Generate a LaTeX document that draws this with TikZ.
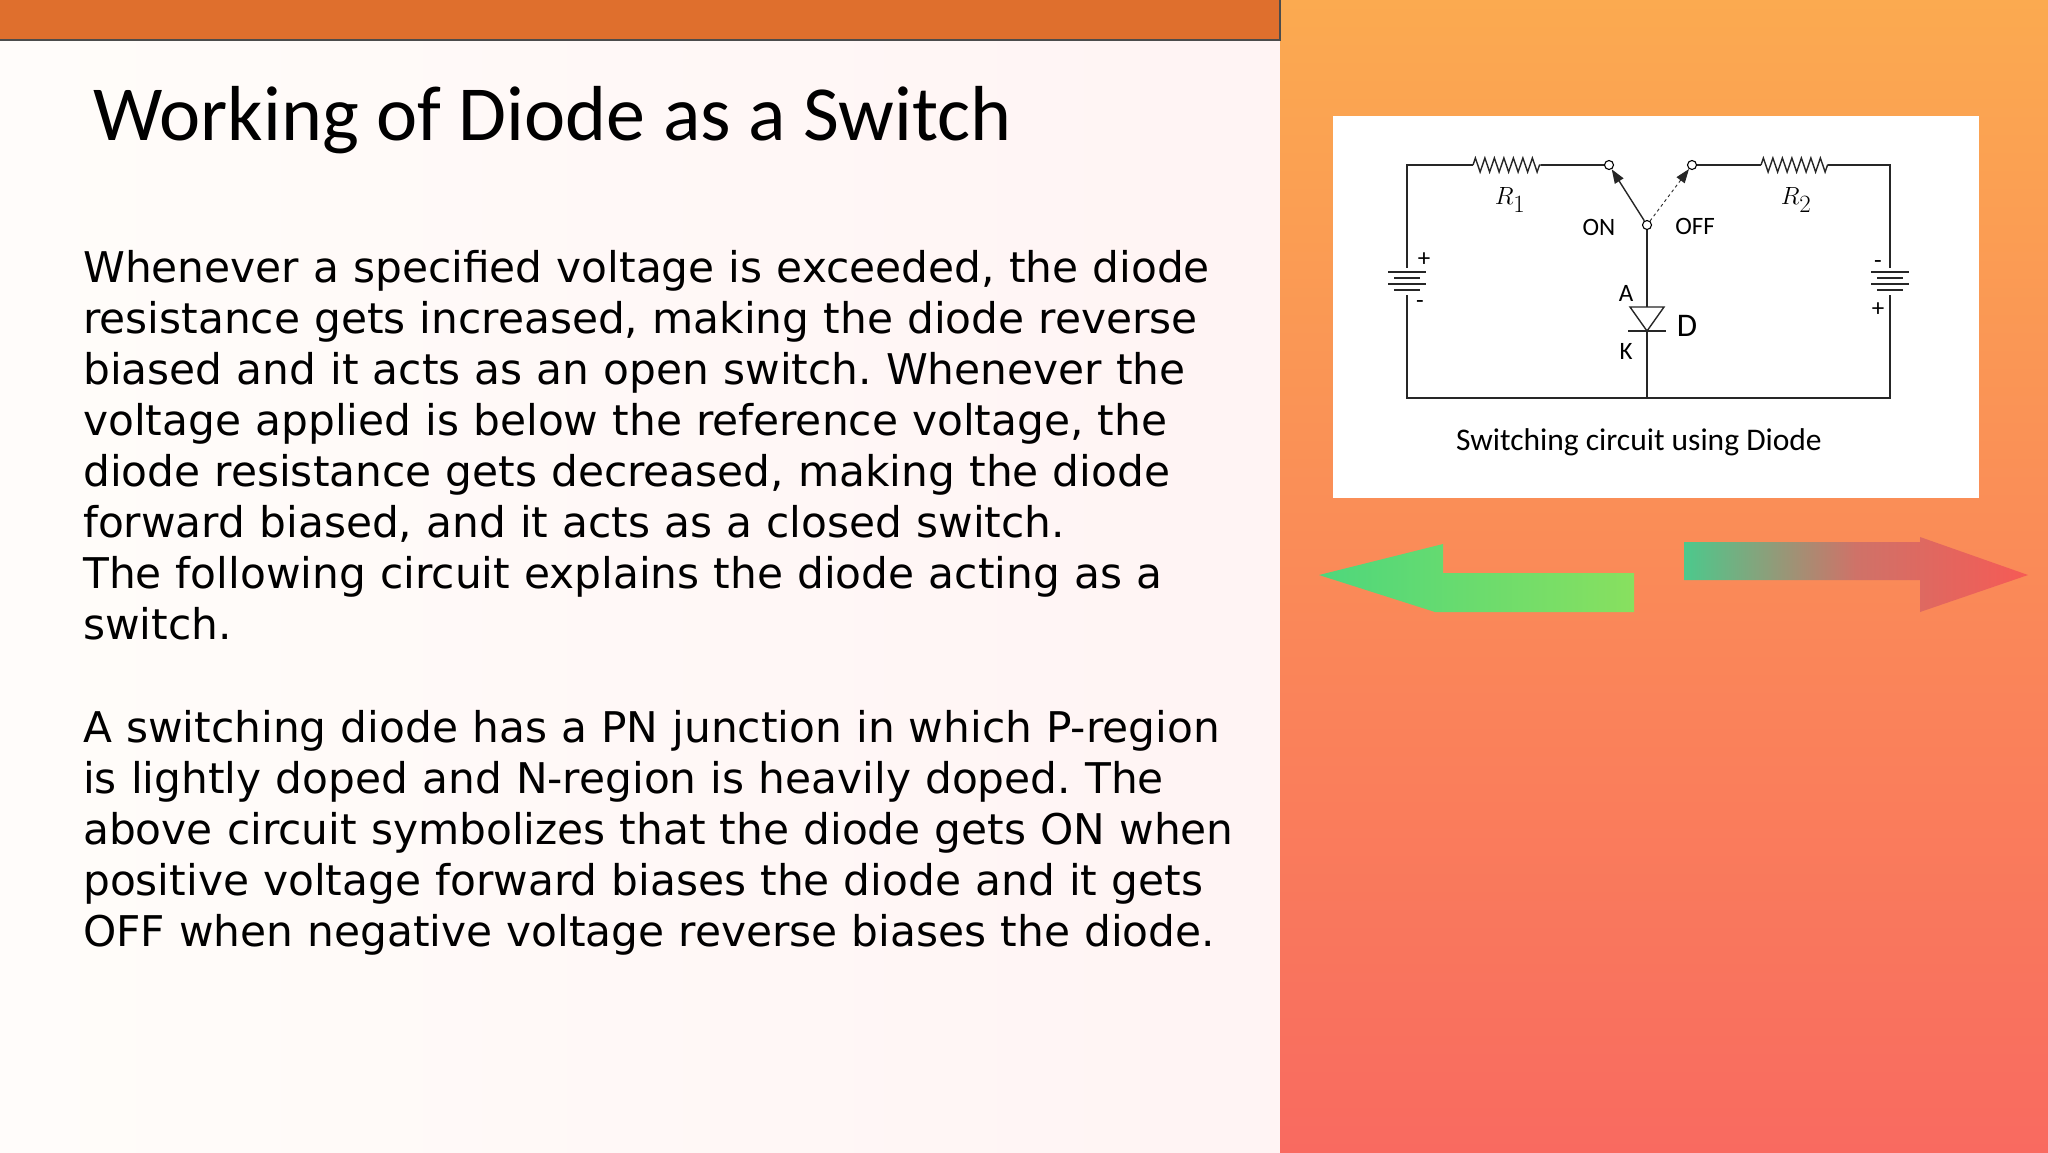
\documentclass[tikz,border=0pt]{standalone}
\usepackage{fontspec}
\setmainfont{DejaVu Sans}
\newfontfamily\carl{Carlito}
\usetikzlibrary{arrows.meta,decorations.pathmorphing}
\frenchspacing
\definecolor{otop}{HTML}{FBAA50}
\definecolor{obot}{HTML}{F96A60}
\definecolor{barc}{HTML}{DF6F2D}
\definecolor{gA}{HTML}{4ED77C}
\definecolor{gB}{HTML}{88E05F}
\definecolor{rA}{HTML}{4CC98C}
\definecolor{rM}{HTML}{CF7268}
\definecolor{rB}{HTML}{F65A55}
\tikzset{
 wire/.style={line width=1.4pt,black!85},
 res/.style={wire,decorate,decoration={zigzag,segment length=9.5pt,amplitude=7pt}},
 term/.style={circle,draw,line width=1.1pt,minimum size=9pt,inner sep=0pt,fill=white},
 lab/.style={font=\carl\fontsize{25}{27}\selectfont,inner sep=0pt},
 body/.style={anchor=north west,align=left,inner sep=0pt,font=\fontsize{42.3}{51}\selectfont,text width=1230pt}
}
\begin{document}
\begin{tikzpicture}[x=1pt,y=-1pt]
\useasboundingbox (0,0) rectangle (2048,1152);
\shade[left color=white!98!orange, right color=pink!18!white] (0,0) rectangle (1280,1152);
\shade[top color=otop,bottom color=obot] (1280,0) rectangle (2048,1152);
\fill[barc] (0,0) rectangle (1280,40);
\draw[black!70,line width=1.2pt] (0,40) -- (1280,40) -- (1280,0);
\node[anchor=west,inner sep=0pt,font=\carl\fontsize{78}{84}\selectfont] (title) at (93,120) {Working of Diode as a Switch};
\node[body] (p1) at (83,250) {Whenever a specified voltage is exceeded, the diode\\resistance gets increased, making the diode reverse\\biased and it acts as an open switch. Whenever the\\voltage applied is below the reference voltage, the\\diode resistance gets decreased, making the diode\\forward biased, and it acts as a closed switch.\\The following circuit explains the diode acting as a\\switch.};
\node[body] (p2) at (83,710) {A switching diode has a PN junction in which P-region\\is lightly doped and N-region is heavily doped. The\\above circuit symbolizes that the diode gets ON when\\positive voltage forward biases the diode and it gets\\OFF when negative voltage reverse biases the diode.};
% circuit box
\fill[white] (1333,116) rectangle (1979,498);
\coordinate (tl) at (1407,165); \coordinate (tr) at (1890,165);
\coordinate (bl) at (1407,398); \coordinate (br) at (1890,398);
\coordinate (bm) at (1647,398);
\coordinate (r1a) at (1473,165); \coordinate (r1b) at (1541,165);
\coordinate (r2a) at (1761,165); \coordinate (r2b) at (1828,165);
\node[term] (t1) at (1609,165) {};
\node[term] (t2) at (1692,165) {};
\node[term] (pv) at (1647,225) {};
\draw[wire] (r1a) -- (tl) -- (1407,268);
\draw[wire] (1407,295) -- (bl) -- (br) -- (1890,295);
\draw[wire] (1890,268) -- (tr) -- (r2b);
\draw[res] (r1a) -- (r1b);
\draw[res] (r2a) -- (r2b);
\draw[wire] (r1b) -- (t1);
\draw[wire] (t2) -- (r2a);
\draw[wire,-{Triangle[length=14pt,width=10pt]}] (pv) -- (t1);
\draw[wire,line width=0.9pt,dashed,-{Triangle[length=14pt,width=10pt]}] (pv) -- (t2);
\draw[wire] (pv) -- (1647,307);
\draw[wire] (1647,331) -- (bm);
\draw[wire,fill=white] (1630,307) -- (1664,307) -- (1647,331) -- cycle;
\draw[wire] (1628,331) -- (1666,331);
% batteries
\foreach \bx in {1407,1890}{
 \draw[wire] (\bx-19,272) -- (\bx+19,272);
 \draw[wire] (\bx-13,278) -- (\bx+13,278);
 \draw[wire] (\bx-19,284) -- (\bx+19,284);
 \draw[wire] (\bx-13,290) -- (\bx+13,290);
}
\node[lab] at (1424,260) {+};
\node[lab] at (1420,305) {-};
\node[lab] at (1878,265) {-};
\node[lab] at (1878,310) {+};
\node[inner sep=0pt,font=\fontsize{34}{36}\selectfont] at (1510,200) {$R_1$};
\node[inner sep=0pt,font=\fontsize{34}{36}\selectfont] at (1796,200) {$R_2$};
\node[lab] at (1599,227) {ON};
\node[lab] at (1695,226) {OFF};
\node[lab] at (1626,293) {A};
\node[lab] at (1626,351) {K};
\node[lab,font=\carl\fontsize{33}{35}\selectfont] at (1687,326) {D};
\node[lab,font=\carl\fontsize{31.5}{33}\selectfont] (cap) at (1639,442) {Switching circuit using Diode};
% arrows
\shade[left color=gA,right color=gB] (1319,575) -- (1443,544) -- (1443,573) -- (1634,573) -- (1634,612) -- (1435,612) -- cycle;
\shade[left color=rA,right color=rB,middle color=rM] (1684,542) -- (1920,542) -- (1920,537) -- (2028,575) -- (1920,612) -- (1920,580) -- (1684,580) -- cycle;
\end{tikzpicture}
\end{document}
